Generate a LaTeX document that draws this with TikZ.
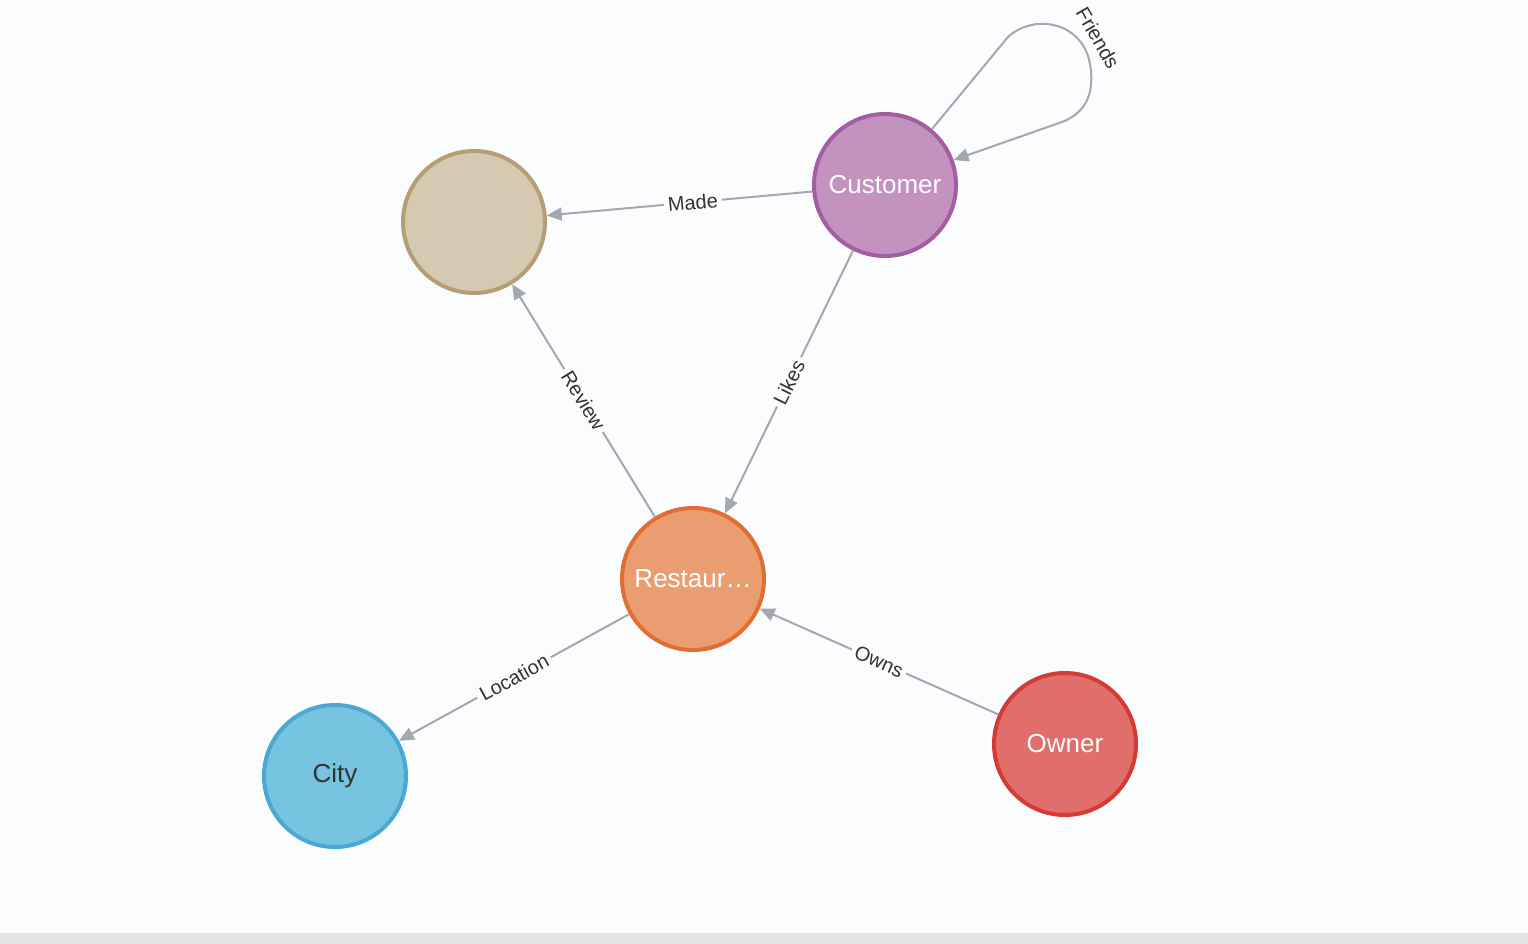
\documentclass[tikz,border=0pt]{standalone}
\usepackage{fontspec}
\setmainfont{Liberation Sans}
\usetikzlibrary{arrows.meta}
\definecolor{bg}{HTML}{FBFCFE}
\definecolor{edge}{HTML}{A5A7AE}
\definecolor{txt}{HTML}{333333}
\newcommand{\dn}[1]{\raisebox{-4pt}{#1}}
\begin{document}
\begin{tikzpicture}[x=1pt,y=-1pt,
  nd/.style={circle,minimum size=142pt,inner sep=0pt,line width=4pt,font=\fontsize{26}{30}\selectfont,text=white},
  rel/.style={draw=edge,line width=2pt,-{Triangle[length=15pt,width=13pt]}},
  lab/.style={midway,sloped,fill=bg,inner sep=4pt,font=\fontsize{20}{24}\selectfont,text=txt}]
\fill[bg] (0,0) rectangle (1528,944);
\fill[black!10] (0,933) rectangle (1528,944);
\node[nd,fill={rgb,255:red,213;green,201;blue,178},draw={rgb,255:red,181;green,158;blue,116}] (tan) at (474,222) {};
\node[nd,fill={rgb,255:red,196;green,146;blue,191},draw={rgb,255:red,163;green,94;blue,163}] (cust) at (885,185) {\dn{Customer}};
\node[nd,fill={rgb,255:red,234;green,157;blue,112},draw={rgb,255:red,224;green,110;blue,50}] (rest) at (693,579) {\dn{Restaur…}};
\node[nd,fill={rgb,255:red,118;green,196;blue,224},draw={rgb,255:red,74;green,168;blue,211},text=txt] (city) at (335,776) {\dn{City}};
\node[nd,fill={rgb,255:red,224;green,110;blue,106},draw={rgb,255:red,213;green,58;blue,52}] (own) at (1065,744) {\dn{Owner}};
\draw[rel] (cust) -- node[lab,pos=0.45]{Made} (tan);
\draw[rel] (cust) -- node[lab]{Likes} (rest);
\draw[rel] (rest) -- node[lab]{Review} (tan);
\draw[rel] (rest) -- node[lab]{Location} (city);
\draw[rel] (own) -- node[lab]{Owns} (rest);
\draw[rel] (cust.50) -- (1008,37) .. controls (1035,12) and (1088,22) .. (1091,72) .. controls (1094,105) and (1075,117) .. (1062,122) -- (cust.20);
\node[fill=bg,inner sep=2pt,rotate=-60,font=\fontsize{20}{24}\selectfont,text=txt] (fr) at (1098,38) {Friends};
\end{tikzpicture}
\end{document}
